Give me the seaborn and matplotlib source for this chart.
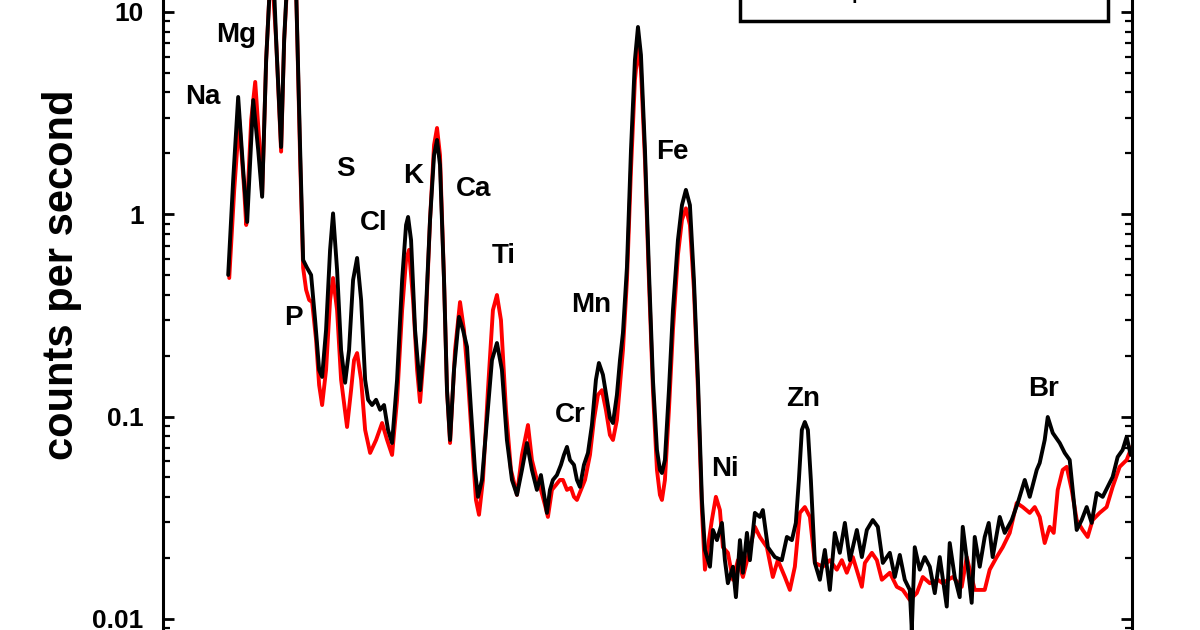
import matplotlib
matplotlib.use("Agg")
import matplotlib.pyplot as plt
from matplotlib.ticker import FixedLocator, LogLocator, NullFormatter
import seaborn as sns

# --- spectrum values (energy in keV, counts per second) ---
black_kev = [0.906, 0.973, 1.040, 1.107, 1.161, 1.242, 1.309, 1.362, 1.416, 1.497,
             1.550, 1.617, 1.658, 1.738, 1.819, 1.873, 1.913, 1.966, 2.020, 2.074,
             2.128, 2.168, 2.221, 2.275, 2.315, 2.369, 2.423, 2.477, 2.530, 2.584,
             2.638, 2.692, 2.746, 2.786, 2.839, 2.893, 2.947, 3.000, 3.054, 3.108,
             3.175, 3.243, 3.296, 3.323, 3.363, 3.417, 3.484, 3.551, 3.618, 3.672,
             3.712, 3.752, 3.806, 3.846, 3.887, 3.940, 4.007, 4.061, 4.115, 4.168,
             4.222, 4.262, 4.316, 4.383, 4.450, 4.517, 4.584, 4.651, 4.719, 4.786,
             4.853, 4.920, 4.987, 5.054, 5.108, 5.162, 5.189, 5.229, 5.269, 5.323,
             5.377, 5.417, 5.458, 5.498, 5.552, 5.592, 5.632, 5.686, 5.740, 5.793,
             5.847, 5.887, 5.941, 5.995, 6.035, 6.076, 6.129, 6.170, 6.210, 6.264,
             6.318, 6.371, 6.412, 6.452, 6.506, 6.559, 6.613, 6.667, 6.707, 6.734,
             6.774, 6.828, 6.882, 6.949, 7.003, 7.056, 7.110, 7.164, 7.218, 7.271,
             7.312, 7.379, 7.419, 7.473, 7.540, 7.580, 7.620, 7.688, 7.728, 7.782,
             7.822, 7.876, 7.916, 7.983, 8.050, 8.090, 8.157, 8.251, 8.345, 8.413,
             8.480, 8.533, 8.574, 8.614, 8.654, 8.695, 8.735, 8.789, 8.856, 8.923,
             8.990, 9.057, 9.124, 9.192, 9.259, 9.353, 9.420, 9.487, 9.567, 9.635,
             9.702, 9.796, 9.863, 9.930, 9.997, 10.064, 10.091, 10.131, 10.198, 10.265,
             10.333, 10.400, 10.467, 10.561, 10.601, 10.668, 10.735, 10.776, 10.843, 10.896,
             10.937, 11.004, 11.071, 11.125, 11.178, 11.273, 11.340, 11.434, 11.515, 11.609,
             11.676, 11.770, 11.810, 11.877, 11.918, 11.985, 12.079, 12.146, 12.213, 12.253,
             12.307, 12.374, 12.441, 12.508, 12.576, 12.656, 12.723, 12.790, 12.857, 12.924,
             12.978, 13.032]
black_cps = [0.501, 1.48, 3.80, 1.66, 0.916, 3.67, 2.08, 1.22, 5.79, 22.7,
             7.28, 2.15, 7.28, 28.5, 12.8, 2.08, 0.594, 0.543, 0.501, 0.300,
             0.170, 0.157, 0.268, 0.667, 1.01, 0.531, 0.213, 0.147, 0.213, 0.473,
             0.608, 0.377, 0.152, 0.121, 0.114, 0.121, 0.108, 0.114, 0.0859, 0.0740,
             0.152, 0.473, 0.885, 0.970, 0.746, 0.268, 0.135, 0.268, 0.938, 1.96,
             2.33, 1.75, 0.473, 0.135, 0.0766, 0.170, 0.311, 0.268, 0.221, 0.108,
             0.0545, 0.0401, 0.0486, 0.0962, 0.190, 0.231, 0.170, 0.0766, 0.0486, 0.0410,
             0.0545, 0.0740, 0.0545, 0.0434, 0.0514, 0.0387, 0.0334, 0.0434, 0.0486, 0.0514,
             0.0577, 0.0646, 0.0708, 0.0610, 0.0577, 0.0486, 0.0449, 0.0577, 0.0661, 0.0908,
             0.152, 0.184, 0.161, 0.121, 0.0985, 0.0929, 0.128, 0.190, 0.259, 0.549,
             2.08, 5.79, 8.43, 6.13, 2.08, 0.531, 0.152, 0.0684, 0.0545, 0.0526,
             0.0610, 0.135, 0.336, 0.746, 1.11, 1.32, 1.11, 0.473, 0.152, 0.0387,
             0.0219, 0.0181, 0.0275, 0.0245, 0.0298, 0.0195, 0.0150, 0.0181, 0.0128, 0.0245,
             0.0169, 0.0266, 0.0195, 0.0334, 0.0319, 0.0345, 0.0226, 0.0202, 0.0195, 0.0254,
             0.0245, 0.0298, 0.0486, 0.0859, 0.0940, 0.0859, 0.0486, 0.0189, 0.0156, 0.0219,
             0.0139, 0.0266, 0.0212, 0.0298, 0.0195, 0.0275, 0.0202, 0.0275, 0.0308, 0.0285,
             0.0189, 0.0212, 0.0161, 0.0207, 0.0156, 0.0139, 0.0088, 0.0226, 0.0175, 0.0202,
             0.0181, 0.0134, 0.0202, 0.0115, 0.0237, 0.0161, 0.0128, 0.0285, 0.0181, 0.0120,
             0.0254, 0.0181, 0.0254, 0.0298, 0.0202, 0.0319, 0.0266, 0.0308, 0.0374, 0.0486,
             0.0401, 0.0545, 0.0590, 0.0766, 0.0995, 0.0830, 0.0740, 0.0661, 0.0610, 0.0434,
             0.0275, 0.0308, 0.0357, 0.0298, 0.0419, 0.0401, 0.0449, 0.0503, 0.0631, 0.0684,
             0.0793, 0.0646]

red_kev = [0.920, 0.987, 1.054, 1.121, 1.148, 1.215, 1.269, 1.322, 1.362, 1.416,
           1.483, 1.550, 1.617, 1.658, 1.738, 1.819, 1.873, 1.913, 1.953, 1.994,
           2.034, 2.087, 2.128, 2.168, 2.221, 2.275, 2.315, 2.369, 2.423, 2.503,
           2.557, 2.597, 2.638, 2.692, 2.746, 2.813, 2.893, 2.974, 3.041, 3.108,
           3.175, 3.243, 3.296, 3.336, 3.390, 3.444, 3.484, 3.551, 3.618, 3.672,
           3.712, 3.752, 3.806, 3.846, 3.887, 3.954, 4.021, 4.074, 4.128, 4.182,
           4.235, 4.276, 4.329, 4.396, 4.463, 4.517, 4.571, 4.638, 4.705, 4.786,
           4.853, 4.934, 4.987, 5.054, 5.108, 5.162, 5.202, 5.256, 5.310, 5.363,
           5.404, 5.458, 5.511, 5.552, 5.592, 5.646, 5.700, 5.767, 5.820, 5.874,
           5.928, 5.981, 6.035, 6.076, 6.129, 6.170, 6.210, 6.264, 6.318, 6.371,
           6.412, 6.452, 6.506, 6.559, 6.613, 6.667, 6.707, 6.734, 6.774, 6.828,
           6.882, 6.949, 7.003, 7.056, 7.110, 7.164, 7.218, 7.271, 7.312, 7.352,
           7.405, 7.459, 7.513, 7.553, 7.620, 7.688, 7.755, 7.822, 7.889, 7.983,
           8.050, 8.144, 8.224, 8.291, 8.386, 8.453, 8.520, 8.587, 8.654, 8.722,
           8.789, 8.896, 8.990, 9.084, 9.151, 9.218, 9.299, 9.420, 9.461, 9.555,
           9.622, 9.689, 9.796, 9.890, 9.970, 10.064, 10.158, 10.239, 10.333, 10.440,
           10.507, 10.641, 10.762, 10.829, 10.937, 11.071, 11.138, 11.232, 11.313, 11.407,
           11.501, 11.582, 11.676, 11.743, 11.810, 11.877, 11.944, 11.998, 12.052, 12.119,
           12.173, 12.240, 12.307, 12.387, 12.454, 12.521, 12.615, 12.709, 12.790, 12.884,
           12.978, 13.046]
red_cps = [0.484, 1.32, 2.93, 1.32, 0.885, 2.93, 4.51, 2.33, 1.25, 5.79,
           18.1, 7.28, 2.04, 7.28, 25.4, 12.8, 1.85, 0.543, 0.423, 0.377,
           0.368, 0.239, 0.143, 0.114, 0.170, 0.377, 0.484, 0.336, 0.152, 0.0888,
           0.135, 0.190, 0.206, 0.152, 0.0859, 0.0661, 0.0766, 0.0929, 0.0766, 0.0646,
           0.121, 0.336, 0.594, 0.667, 0.377, 0.170, 0.118, 0.239, 0.938, 2.20,
           2.67, 1.96, 0.473, 0.135, 0.0740, 0.213, 0.368, 0.268, 0.152, 0.0766,
           0.0387, 0.0327, 0.0486, 0.135, 0.336, 0.399, 0.300, 0.108, 0.0545, 0.0410,
           0.0646, 0.0908, 0.0610, 0.0486, 0.0434, 0.0366, 0.0319, 0.0434, 0.0459, 0.0486,
           0.0486, 0.0434, 0.0444, 0.0401, 0.0387, 0.0434, 0.0486, 0.0646, 0.0962, 0.128,
           0.135, 0.108, 0.0811, 0.0766, 0.0962, 0.143, 0.213, 0.473, 1.66, 4.61,
           6.64, 5.17, 1.85, 0.473, 0.135, 0.0545, 0.0410, 0.0387, 0.0486, 0.108,
           0.268, 0.630, 0.938, 1.07, 0.885, 0.423, 0.135, 0.0345, 0.0175, 0.0226,
           0.0308, 0.0401, 0.0345, 0.0226, 0.0212, 0.0156, 0.0195, 0.0161, 0.0202, 0.0285,
           0.0254, 0.0226, 0.0161, 0.0195, 0.0161, 0.0139, 0.0181, 0.0334, 0.0357, 0.0319,
           0.0189, 0.0181, 0.0195, 0.0175, 0.0195, 0.0169, 0.0202, 0.0144, 0.0189, 0.0212,
           0.0195, 0.0156, 0.0169, 0.0144, 0.0139, 0.0124, 0.0134, 0.0161, 0.0150, 0.0156,
           0.0150, 0.0161, 0.0144, 0.0202, 0.0139, 0.0139, 0.0175, 0.0202, 0.0226, 0.0266,
           0.0374, 0.0357, 0.0334, 0.0357, 0.0319, 0.0237, 0.0285, 0.0266, 0.0434, 0.0545,
           0.0564, 0.0434, 0.0308, 0.0275, 0.0254, 0.0308, 0.0334, 0.0357, 0.0449, 0.0564,
           0.0610, 0.0708]

# element line labels
elements = ["Na", "Mg", "P", "S", "Cl", "K", "Ca", "Ti", "Cr", "Mn", "Fe", "Ni", "Zn", "Br"]
label_kev = [0.570, 1.013, 1.779, 2.477, 2.866, 3.390, 4.209, 4.612, 5.499, 5.781,
             6.869, 7.580, 8.628, 11.865]
label_cps = [3.80, 7.69, 0.307, 1.67, 0.906, 1.55, 1.33, 0.622, 0.102, 0.356,
             2.03, 0.0551, 0.122, 0.137]

ytick_vals = [0.01, 0.1, 1, 10]
ytick_text = ["0.01", "0.1", "1", "10"]

sns.set_style("ticks")
plt.rcParams["font.family"] = ["Liberation Sans", "DejaVu Sans"]
plt.rcParams["font.weight"] = "bold"
plt.rcParams["text.color"] = "black"
plt.rcParams["axes.labelcolor"] = "black"
plt.rcParams["ytick.color"] = "black"
plt.rcParams["xtick.color"] = "black"

fig = plt.figure(figsize=(12, 6.3), dpi=100)
# the axes run past the top and bottom of the picture, as in the cropped original
ax = fig.add_axes([163 / 1200, -70 / 630, 969 / 1200, 740 / 630])

sns.lineplot(x=red_kev, y=red_cps, color="red", lw=2.8, ax=ax,
             estimator=None, label="sample 2")
sns.lineplot(x=black_kev, y=black_cps, color="black", lw=2.8, ax=ax,
             estimator=None, label="sample 1")

ax.set_yscale("log")
ax.set_xlim(0.03, 13.05)
ax.set_ylim(0.00397, 18.07)

ax.yaxis.set_major_locator(FixedLocator(ytick_vals))
ax.set_yticklabels(ytick_text)
ax.yaxis.set_minor_locator(LogLocator(base=10, subs=range(2, 10)))
ax.yaxis.set_minor_formatter(NullFormatter())
ax.tick_params(axis="y", which="major", direction="in", length=8, width=2,
               labelsize=19, pad=14, left=True, right=True, labelcolor="black")
ax.tick_params(axis="y", which="minor", direction="in", length=5, width=1.6,
               left=True, right=True)
ax.tick_params(axis="x", which="both", direction="in", labelbottom=False)
for side in ["left", "right", "top", "bottom"]:
    ax.spines[side].set_linewidth(2.2)
    ax.spines[side].set_color("black")

ax.set_xlabel("")
ax.set_ylabel("counts per second", fontsize=30, fontweight="bold", color="black")
ax.yaxis.set_label_coords(-0.084, 0.574)

for name, ex, ey in zip(elements, label_kev, label_cps):
    ax.text(ex, ey, name, fontsize=20, fontweight="bold", color="black",
            ha="center", va="center")

leg = ax.legend(loc="lower left", bbox_to_anchor=(0.5955, 0.9176, 0.3798, 0.1),
                mode="expand", borderaxespad=0, fontsize=14, borderpad=0.95,
                fancybox=False, frameon=True)
leg.get_frame().set_edgecolor("black")
leg.get_frame().set_linewidth(2.5)
leg.get_frame().set_alpha(1)

fig.savefig("out.png", dpi=100)
